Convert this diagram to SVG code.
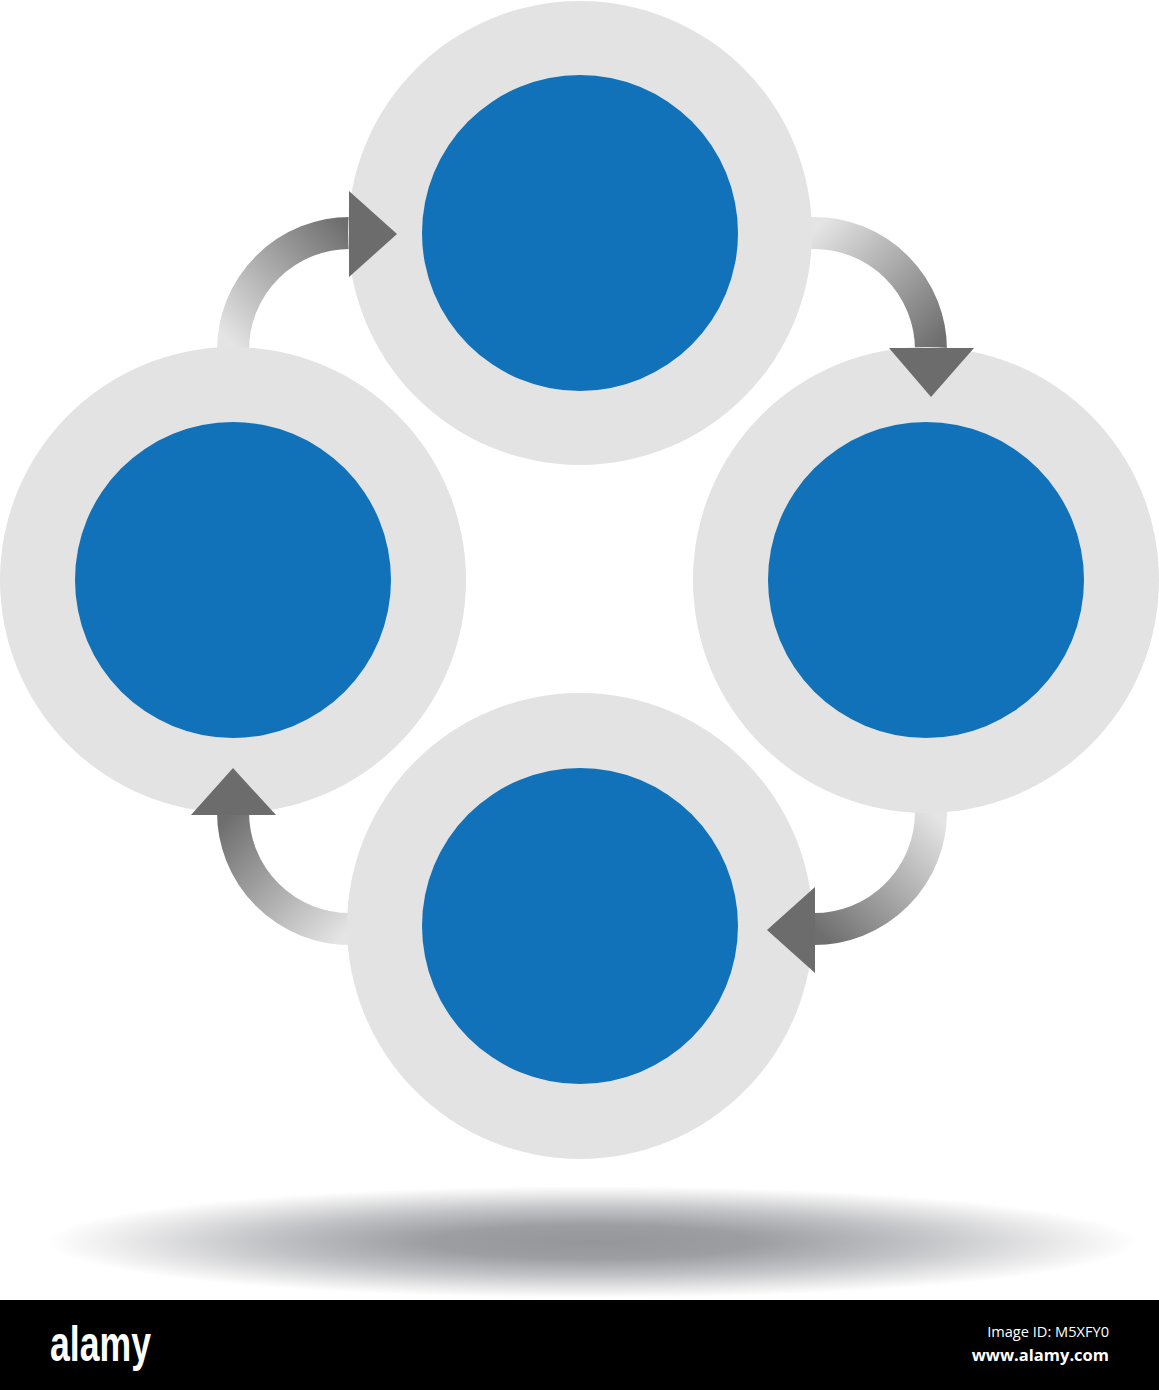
<svg xmlns="http://www.w3.org/2000/svg" width="1159" height="1390" viewBox="0 0 1159 1390">
  <defs>
    <style>
      .ring { fill: #e3e3e3; }
      .core { fill: #1172b9; }
      .band { fill: none; stroke-width: 32; stroke-linecap: butt; }
      .head { fill: #6c6c6c; }
      .wm-logo { font-family: "Liberation Sans", Arial, sans-serif; font-weight: bold; fill: #ffffff; }
      .wm-text { font-family: "Open Sans", "Noto Sans", "DejaVu Sans", sans-serif; fill: #ffffff; }
    </style>
    <linearGradient id="gTL" gradientUnits="userSpaceOnUse" x1="233" y1="345" x2="352" y2="233">
      <stop offset="0" stop-color="#e4e4e4"/>
      <stop offset="1" stop-color="#6e6e6e"/>
    </linearGradient>
    <linearGradient id="gTR" gradientUnits="userSpaceOnUse" x1="812" y1="233" x2="931" y2="350">
      <stop offset="0" stop-color="#e4e4e4"/>
      <stop offset="1" stop-color="#6e6e6e"/>
    </linearGradient>
    <linearGradient id="gBR" gradientUnits="userSpaceOnUse" x1="931" y1="812" x2="814" y2="929">
      <stop offset="0" stop-color="#e4e4e4"/>
      <stop offset="1" stop-color="#6e6e6e"/>
    </linearGradient>
    <linearGradient id="gBL" gradientUnits="userSpaceOnUse" x1="350" y1="929" x2="233" y2="812">
      <stop offset="0" stop-color="#e4e4e4"/>
      <stop offset="1" stop-color="#6e6e6e"/>
    </linearGradient>
    <radialGradient id="gShadow" cx="0.5" cy="0.5" r="0.5">
      <stop offset="0" stop-color="#95969a"/>
      <stop offset="0.3" stop-color="#9d9ea2"/>
      <stop offset="0.6" stop-color="#c2c3c6"/>
      <stop offset="0.85" stop-color="#e9e9ea"/>
      <stop offset="1" stop-color="#ffffff"/>
    </radialGradient>
  </defs>

  <rect x="0" y="0" width="1159" height="1390" fill="#ffffff"/>

  <g id="shadow">
    <ellipse cx="592" cy="1242" rx="545" ry="56" fill="url(#gShadow)"/>
  </g>

  <g id="connector-bands">
    <path class="band" stroke="url(#gTL)" d="M233 370 L233 350 A117 117 0 0 1 350 233 L352 233"/>
    <path class="band" stroke="url(#gTR)" d="M795 233 L814 233 A117 117 0 0 1 931 350 L931 352"/>
    <path class="band" stroke="url(#gBR)" d="M931 795 L931 812 A117 117 0 0 1 814 929 L812 929"/>
    <path class="band" stroke="url(#gBL)" d="M370 929 L350 929 A117 117 0 0 1 233 812 L233 810"/>
  </g>

  <g id="node-top">
    <circle class="ring" cx="580" cy="233" r="232"/>
    <circle class="core" cx="580" cy="233" r="158"/>
  </g>
  <g id="node-left">
    <circle class="ring" cx="233" cy="580" r="233"/>
    <circle class="core" cx="233" cy="580" r="158"/>
  </g>
  <g id="node-right">
    <circle class="ring" cx="926" cy="580" r="233"/>
    <circle class="core" cx="926" cy="580" r="158"/>
  </g>
  <g id="node-bottom">
    <circle class="ring" cx="580" cy="926" r="233"/>
    <circle class="core" cx="580" cy="926" r="158"/>
  </g>

  <g id="connector-heads">
    <polygon class="head" points="349,191 349,277 397,234"/>
    <polygon class="head" points="889,348 974,348 931,397"/>
    <polygon class="head" points="815,887 815,973 767,930"/>
    <polygon class="head" points="191,815 276,815 233,768"/>
  </g>

  <g id="footer">
    <rect x="0" y="1300" width="1159" height="90" fill="#000000"/>
    <text class="wm-logo" x="50" y="1361" font-size="50" textLength="101" lengthAdjust="spacingAndGlyphs">alamy</text>
    <text class="wm-text" x="1109" y="1337" font-size="14.6" text-anchor="end">Image ID: M5XFY0</text>
    <text class="wm-text" x="1109" y="1361" font-size="16.5" font-weight="bold" text-anchor="end">www.alamy.com</text>
  </g>
</svg>
